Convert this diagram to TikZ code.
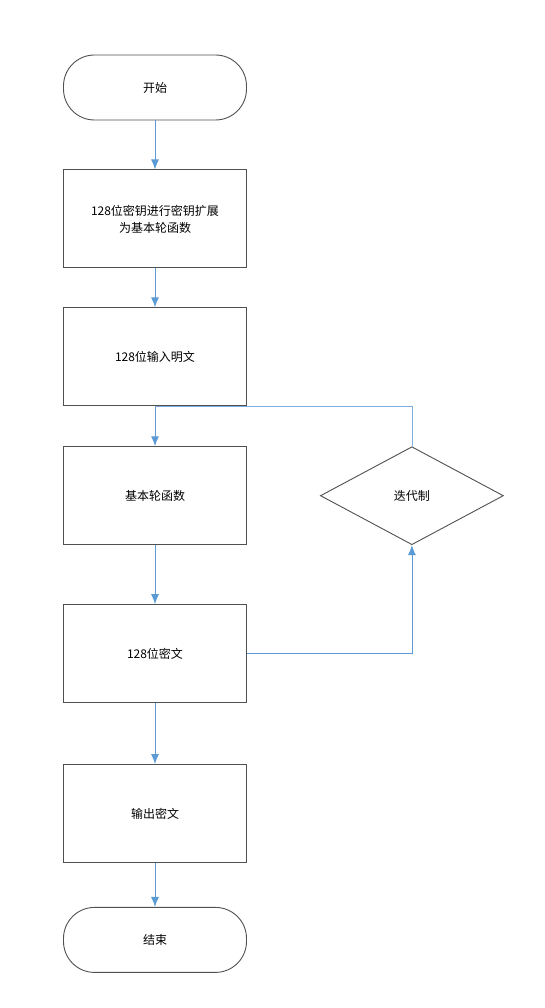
\documentclass[tikz,border=0pt]{standalone}
\usepackage{fontspec}
\setmainfont{Noto Sans CJK SC}
\usetikzlibrary{shapes.geometric, positioning, arrows.meta}
\definecolor{lineblue}{RGB}{91,155,213}
\definecolor{edgegray}{RGB}{80,80,80}

\begin{document}
\begin{tikzpicture}[node distance=40pt,
  every node/.style={align=center, font=\fontsize{12}{17}\selectfont},
  block/.style={draw=edgegray, line width=0.9pt, rectangle, minimum width=183pt, minimum height=98pt},
  term/.style={draw=edgegray, line width=0.9pt, rectangle, rounded corners=31pt, minimum width=183pt, minimum height=65pt},
  choice/.style={draw=edgegray, line width=0.9pt, diamond, aspect=1.87, inner sep=0pt, minimum width=183pt, minimum height=98pt},
  arr/.style={lineblue, line width=1pt, -{Latex[length=10pt,width=8pt]}},
  back/.style={lineblue!80, line width=0.8pt}]
 \useasboundingbox (0,0) rectangle (545pt,-1008pt);
 \node[term] (start) at (155pt,-87.5pt) {开始};
 \node[block, below = 49pt of start] (keyexp) {128位密钥进行密钥扩展\\为基本轮函数};
 \node[block, below = 39pt of keyexp] (plain) {128位输入明文};
 \node[block, below = 40pt of plain] (round) {基本轮函数};
 \node[block, below = 59pt of round] (cipher) {128位密文};
 \node[block, below = 61pt of cipher] (output) {输出密文};
 \node[term, below = 44pt of output] (stop) {结束};
 \node[choice, right = 73pt of round] (iter) {迭代制};
 \draw[arr] (start) -- (keyexp);
 \draw[arr] (keyexp) -- (plain);
 \draw[arr] (plain) -- (round);
 \draw[arr] (round) -- (cipher);
 \draw[arr] (cipher) -- (output);
 \draw[arr] (output) -- (stop);
 \draw[arr, line width=0.8pt] (cipher.east) -| (iter.south);
 \draw[back] (iter.north) |- (plain.south);
\end{tikzpicture}
\end{document}
